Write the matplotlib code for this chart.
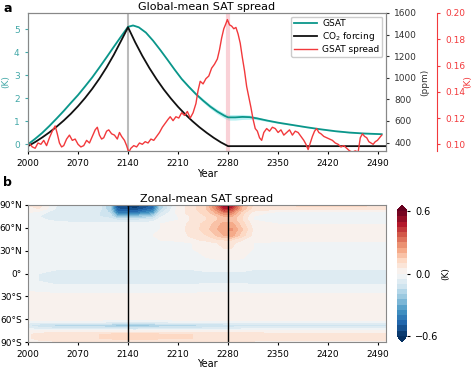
import numpy as np
import matplotlib
matplotlib.use("Agg")
import matplotlib.pyplot as plt

# ---- panel a data ----
gsat_years = [2000, 2010, 2020, 2030, 2040, 2050, 2060, 2070, 2080, 2090, 2100, 2110, 2120, 2130,
              2140, 2147, 2155, 2165, 2175, 2185, 2195, 2205, 2215, 2225, 2235, 2245, 2255, 2265,
              2275, 2280, 2290, 2300, 2310, 2320, 2335, 2350, 2370, 2390, 2410, 2430, 2450, 2470, 2495]
gsat = [0.0, 0.24, 0.5, 0.8, 1.12, 1.45, 1.8, 2.14, 2.52, 2.91, 3.34, 3.78, 4.23, 4.67,
        5.1, 5.16, 5.08, 4.85, 4.5, 4.1, 3.68, 3.25, 2.84, 2.5, 2.18, 1.9, 1.64, 1.42,
        1.24, 1.17, 1.17, 1.19, 1.18, 1.13, 1.03, 0.94, 0.84, 0.74, 0.65, 0.57, 0.51, 0.47, 0.44]
gsat_band = [0.02, 0.02, 0.02, 0.02, 0.02, 0.02, 0.02, 0.02, 0.02, 0.02, 0.02, 0.02, 0.02, 0.02,
             0.02, 0.02, 0.02, 0.02, 0.02, 0.03, 0.03, 0.04, 0.05, 0.06, 0.07, 0.08, 0.09, 0.1,
             0.11, 0.12, 0.12, 0.11, 0.09, 0.06, 0.04, 0.03, 0.02, 0.02, 0.02, 0.02, 0.02, 0.02, 0.02]

co2_years = [2000, 2010, 2020, 2030, 2040, 2050, 2060, 2070, 2080, 2090, 2100, 2110, 2120, 2130,
             2140, 2150, 2160, 2170, 2180, 2190, 2200, 2210, 2220, 2230, 2240, 2250, 2260, 2270,
             2280, 2500]
co2 = [367, 405, 448, 495, 547, 604, 667, 737, 814, 899, 993, 1097, 1212, 1339,
       1468, 1329, 1203, 1089, 986, 892, 808, 731, 662, 599, 542, 491, 444, 402,
       367, 367]

spread_years = [2003, 2006, 2010, 2014, 2018, 2022, 2026, 2030, 2034, 2038, 2041, 2044, 2047, 2050,
                2054, 2058, 2062, 2066, 2070, 2074, 2078, 2082, 2086, 2090, 2094, 2097, 2100, 2103,
                2106, 2110, 2113, 2117, 2121, 2125, 2128, 2131, 2135, 2138, 2141, 2144, 2148, 2152,
                2156, 2160, 2164, 2168, 2172, 2176, 2180, 2184, 2188, 2192, 2196, 2199, 2203, 2207,
                2211, 2215, 2219, 2223, 2227, 2231, 2235, 2238, 2241, 2245, 2249, 2253, 2257, 2261,
                2265, 2268, 2271, 2274, 2277, 2279, 2282, 2285, 2288, 2291, 2294, 2297, 2300, 2303,
                2306, 2309, 2312, 2315, 2318, 2321, 2324, 2327, 2330, 2334, 2338, 2342, 2346, 2350,
                2354, 2358, 2362, 2366, 2370, 2374, 2378, 2382, 2386, 2389, 2392, 2395, 2398, 2401,
                2404, 2407, 2410, 2414, 2418, 2422, 2426, 2430, 2434, 2438, 2442, 2446, 2450, 2454,
                2458, 2462, 2465, 2468, 2471, 2474, 2477, 2480, 2483, 2486, 2489, 2492, 2495]
spread = [0.100, 0.098, 0.097, 0.101, 0.100, 0.103, 0.099, 0.105, 0.110, 0.114, 0.108, 0.101, 0.098, 0.099,
          0.104, 0.107, 0.103, 0.104, 0.100, 0.098, 0.099, 0.103, 0.101, 0.106, 0.111, 0.113, 0.107, 0.104,
          0.105, 0.110, 0.111, 0.108, 0.107, 0.104, 0.109, 0.106, 0.103, 0.099, 0.094, 0.097, 0.099, 0.098,
          0.101, 0.100, 0.102, 0.101, 0.104, 0.103, 0.106, 0.109, 0.113, 0.116, 0.119, 0.121, 0.118, 0.121,
          0.120, 0.124, 0.122, 0.125, 0.120, 0.124, 0.131, 0.141, 0.148, 0.146, 0.150, 0.152, 0.158, 0.161,
          0.165, 0.172, 0.181, 0.188, 0.192, 0.195, 0.191, 0.190, 0.188, 0.189, 0.184, 0.177, 0.166, 0.156,
          0.144, 0.136, 0.128, 0.119, 0.112, 0.110, 0.105, 0.103, 0.109, 0.112, 0.110, 0.113, 0.112, 0.109,
          0.111, 0.107, 0.109, 0.111, 0.107, 0.110, 0.109, 0.106, 0.103, 0.100, 0.096, 0.101, 0.106, 0.110,
          0.112, 0.109, 0.108, 0.106, 0.105, 0.104, 0.103, 0.101, 0.100, 0.098, 0.099, 0.097, 0.095, 0.094,
          0.095, 0.094, 0.105, 0.108, 0.106, 0.105, 0.102, 0.101, 0.100, 0.102, 0.103, 0.105, 0.107]

# ---- panel b data ----
zm_years = [2000, 2015, 2040, 2070, 2100, 2115, 2125, 2150, 2175, 2185, 2210,
            2230, 2250, 2265, 2275, 2285, 2300, 2315, 2350, 2400, 2450, 2500]
zm_lats = [90, 85, 80, 75, 70, 65, 58, 50, 44, 40, 33, 15, 5, 0, -10, -20, -30,
           -45, -60, -64, -68, -72, -76, -80, -85, -90]
zm = [
    [0.05, 0.08, -0.05, -0.08, -0.08, -0.2, -0.55, -0.6, -0.5, -0.2, 0.02, 0.08, 0.15, 0.35, 0.55, 0.5, 0.2, 0.1, 0.1, 0.12, 0.12, 0.1],
    [0.03, 0.05, -0.06, -0.08, -0.08, -0.2, -0.5, -0.55, -0.45, -0.18, 0.02, 0.08, 0.15, 0.3, 0.45, 0.4, 0.18, 0.08, 0.06, 0.08, 0.08, 0.06],
    [0.0, -0.03, -0.08, -0.1, -0.1, -0.16, -0.42, -0.45, -0.35, -0.12, 0.02, 0.08, 0.12, 0.22, 0.3, 0.28, 0.12, 0.03, -0.02, -0.02, -0.02, -0.02],
    [-0.02, -0.05, -0.08, -0.1, -0.1, -0.12, -0.25, -0.25, -0.18, -0.06, 0.0, 0.06, 0.1, 0.15, 0.2, 0.2, 0.1, 0.0, -0.05, -0.05, -0.05, -0.05],
    [-0.02, -0.04, -0.06, -0.08, -0.07, -0.08, -0.1, -0.1, -0.07, -0.03, 0.0, 0.06, 0.1, 0.15, 0.18, 0.18, 0.1, 0.0, -0.04, -0.04, -0.04, -0.03],
    [0.0, -0.02, -0.03, -0.03, -0.03, -0.03, -0.03, -0.03, -0.02, 0.0, 0.02, 0.07, 0.12, 0.18, 0.22, 0.22, 0.12, 0.03, 0.0, 0.0, 0.0, 0.0],
    [0.0, 0.0, -0.01, -0.02, -0.02, -0.02, -0.02, -0.02, 0.0, 0.0, 0.03, 0.07, 0.13, 0.2, 0.24, 0.26, 0.15, 0.04, 0.02, 0.02, 0.02, 0.02],
    [0.0, 0.0, 0.0, 0.0, 0.0, 0.0, 0.0, 0.0, 0.0, 0.02, 0.03, 0.06, 0.1, 0.16, 0.2, 0.22, 0.12, 0.04, 0.02, 0.02, 0.02, 0.02],
    [0.0, 0.0, 0.0, -0.02, -0.02, -0.02, -0.02, -0.02, -0.01, 0.0, 0.02, 0.04, 0.06, 0.09, 0.1, 0.1, 0.05, 0.02, 0.02, 0.02, 0.02, 0.02],
    [0.0, -0.02, -0.05, -0.05, -0.05, -0.05, -0.05, -0.05, -0.04, -0.04, -0.03, 0.0, 0.03, 0.05, 0.06, 0.06, 0.03, 0.0, -0.02, -0.02, -0.02, -0.02],
    [0.0, 0.0, -0.02, -0.02, -0.02, -0.02, -0.02, -0.02, -0.02, -0.02, -0.02, 0.0, 0.02, 0.04, 0.05, 0.05, 0.03, 0.0, 0.0, 0.0, 0.0, 0.0],
    [-0.01, -0.02, -0.02, -0.02, -0.02, -0.02, -0.02, -0.02, -0.02, -0.02, -0.02, -0.02, -0.01, -0.01, -0.01, -0.01, -0.01, -0.02, -0.02, -0.02, -0.02, -0.02],
    [-0.02, -0.03, -0.05, -0.05, -0.05, -0.05, -0.05, -0.05, -0.05, -0.05, -0.05, -0.05, -0.04, -0.04, -0.04, -0.04, -0.04, -0.05, -0.05, -0.05, -0.05, -0.05],
    [-0.03, -0.05, -0.07, -0.07, -0.07, -0.07, -0.07, -0.07, -0.07, -0.07, -0.07, -0.07, -0.06, -0.06, -0.06, -0.06, -0.06, -0.07, -0.07, -0.07, -0.07, -0.07],
    [-0.03, -0.05, -0.07, -0.07, -0.07, -0.07, -0.07, -0.07, -0.07, -0.07, -0.07, -0.07, -0.06, -0.06, -0.06, -0.06, -0.06, -0.07, -0.07, -0.07, -0.07, -0.07],
    [-0.01, -0.02, -0.03, -0.03, -0.03, -0.03, -0.03, -0.03, -0.03, -0.03, -0.03, -0.03, -0.02, -0.02, -0.02, -0.02, -0.02, -0.03, -0.03, -0.03, -0.03, -0.03],
    [0.02, 0.02, 0.02, 0.02, 0.02, 0.02, 0.02, 0.02, 0.02, 0.02, 0.02, 0.02, 0.02, 0.02, 0.02, 0.02, 0.02, 0.02, 0.02, 0.02, 0.02, 0.02],
    [0.03, 0.03, 0.03, 0.03, 0.03, 0.03, 0.03, 0.03, 0.03, 0.03, 0.03, 0.03, 0.03, 0.03, 0.03, 0.03, 0.03, 0.03, 0.03, 0.03, 0.03, 0.03],
    [0.02, 0.02, 0.02, 0.02, 0.02, 0.02, 0.02, 0.02, 0.02, 0.02, 0.02, 0.02, 0.02, 0.02, 0.02, 0.02, 0.02, 0.02, 0.02, 0.02, 0.02, 0.02],
    [-0.03, -0.04, -0.05, -0.05, -0.05, -0.06, -0.06, -0.07, -0.06, -0.06, -0.05, -0.05, -0.05, -0.04, -0.04, -0.04, -0.04, -0.04, -0.04, -0.04, -0.04, -0.04],
    [-0.1, -0.14, -0.17, -0.18, -0.19, -0.21, -0.23, -0.24, -0.22, -0.2, -0.18, -0.17, -0.16, -0.15, -0.14, -0.13, -0.13, -0.12, -0.12, -0.12, -0.12, -0.12],
    [-0.06, -0.08, -0.1, -0.1, -0.11, -0.12, -0.13, -0.14, -0.12, -0.11, -0.1, -0.1, -0.09, -0.08, -0.08, -0.08, -0.07, -0.07, -0.07, -0.07, -0.07, -0.07],
    [0.01, 0.02, 0.02, 0.02, 0.02, 0.02, 0.02, 0.02, 0.02, 0.02, 0.02, 0.02, 0.02, 0.02, 0.02, 0.02, 0.02, 0.02, 0.02, 0.02, 0.02, 0.02],
    [0.04, 0.07, 0.09, 0.09, 0.1, 0.11, 0.12, 0.12, 0.12, 0.11, 0.1, 0.1, 0.09, 0.09, 0.09, 0.08, 0.08, 0.08, 0.07, 0.07, 0.07, 0.07],
    [0.04, 0.07, 0.09, 0.09, 0.1, 0.11, 0.12, 0.12, 0.12, 0.11, 0.1, 0.1, 0.09, 0.09, 0.09, 0.08, 0.08, 0.08, 0.07, 0.07, 0.07, 0.07],
    [0.02, 0.03, 0.04, 0.04, 0.04, 0.05, 0.05, 0.05, 0.05, 0.05, 0.04, 0.04, 0.04, 0.04, 0.04, 0.04, 0.04, 0.04, 0.03, 0.03, 0.03, 0.03],
]

year_ticks = [2000, 2070, 2140, 2210, 2280, 2350, 2420, 2490]
lat_ticks = [90, 60, 30, 0, -30, -60, -90]
lat_labels = ['90°N', '60°N', '30°N', '0°', '30°S', '60°S', '90°S']

teal = '#0b968a'
teal_lt = '#43a8a8'
red = '#f2393c'
fs = 6.5

plt.rcParams['font.size'] = fs
fig = plt.figure(figsize=(4.74, 3.68), dpi=100)

# ---------- panel a ----------
ax = fig.add_axes([28/474, 1-151/368, 358/474, 138/368])
ax.fill_between(gsat_years, np.array(gsat) - np.array(gsat_band), np.array(gsat) + np.array(gsat_band),
                color='#9eecef', alpha=0.7, lw=0)
l1, = ax.plot(gsat_years, gsat, color=teal, lw=1.3, label='GSAT', zorder=3)
ax.axvline(2140, color='#bbbbbb', lw=1.5, zorder=1)
ax.axvline(2280, color='#f5a5b0', lw=3, alpha=0.5, zorder=1)
ax.set_xlim(2000, 2501)
ax.set_ylim(-0.29, 5.7)
ax.set_xticks(year_ticks)
ax.set_yticks([0, 1, 2, 3, 4, 5])
ax.tick_params(axis='y', colors=teal_lt, labelsize=fs, length=2.5)
ax.tick_params(axis='x', labelsize=fs, length=2.5)
ax.set_ylabel('(K)', color=teal_lt, fontsize=fs)
ax.yaxis.set_label_coords(-0.05, 0.5)
ax.set_xlabel('Year', fontsize=fs+0.5, labelpad=0.5)
ax.set_title('Global-mean SAT spread', fontsize=8, pad=2)
for s in ['top', 'bottom', 'right']:
    ax.spines[s].set_color('#888888')
ax.spines['left'].set_color(teal_lt)

ax2 = ax.twinx()
l2, = ax2.plot(co2_years, co2, color='#111111', lw=1.3, label='CO$_2$ forcing')
ax2.set_ylim(322, 1600)
ax2.set_yticks([400, 600, 800, 1000, 1200, 1400, 1600])
ax2.tick_params(axis='y', colors='#333333', labelsize=fs, length=2.5)
ax2.set_ylabel('(ppm)', color='#333333', fontsize=fs)
ax2.yaxis.set_label_coords(1.097, 0.5)
for s in ax2.spines.values():
    s.set_color('#888888')

ax3 = ax.twinx()
ax3.spines['right'].set_position(('axes', 1.142))
l3, = ax3.plot(spread_years, spread, color=red, lw=1.0, label='GSAT spread')
ax3.set_ylim(0.0949, 0.2)
ax3.set_yticks([0.10, 0.12, 0.14, 0.16, 0.18, 0.20])
ax3.set_yticklabels(['0.10', '0.12', '0.14', '0.16', '0.18', '0.20'])
ax3.tick_params(axis='y', colors=red, labelsize=fs, length=2.5)
ax3.set_ylabel('(K)', color=red, fontsize=fs)
ax3.yaxis.set_label_coords(1.215, 0.5)
ax3.spines['right'].set_color(red)
for s in ['top', 'bottom', 'left']:
    ax3.spines[s].set_visible(False)
ax3.legend(handles=[l1, l2, l3], loc='upper right', fontsize=fs, handlelength=2.6,
           handletextpad=0.6, borderpad=0.3, borderaxespad=0.4, labelspacing=0.2, framealpha=1)

fig.text(3/474, 1-9/368, 'a', fontsize=9, fontweight='bold', va='center')

# ---------- panel b ----------
axb = fig.add_axes([28/474, 1-342/368, 358/474, 137/368])
levels = np.linspace(-0.6, 0.6, 25)
cf = axb.contourf(zm_years, zm_lats, np.array(zm), levels=levels, cmap='RdBu_r', extend='both')
axb.axvline(2140, color='black', lw=1)
axb.axvline(2280, color='black', lw=1)
axb.set_xlim(2000, 2501)
axb.set_ylim(-90, 90)
axb.set_xticks(year_ticks)
axb.set_yticks(lat_ticks)
axb.set_yticklabels(lat_labels)
axb.tick_params(labelsize=fs, length=2.5)
axb.tick_params(axis='y', pad=2)
axb.set_xlabel('Year', fontsize=fs+0.5, labelpad=0)
axb.set_title('Zonal-mean SAT spread', fontsize=8, pad=2)
for s in axb.spines.values():
    s.set_color('#888888')

cax = fig.add_axes([397/474, 1-342/368, 10/474, 137/368])
cb = fig.colorbar(cf, cax=cax, ticks=[-0.6, 0.0, 0.6])
cb.ax.tick_params(labelsize=fs+0.5, length=2.5)
cb.set_label('(K)', fontsize=fs, labelpad=2)
cb.outline.set_visible(False)

fig.text(3/474, 1-183/368, 'b', fontsize=9, fontweight='bold', va='center')

fig.savefig('out.png', dpi=100)
